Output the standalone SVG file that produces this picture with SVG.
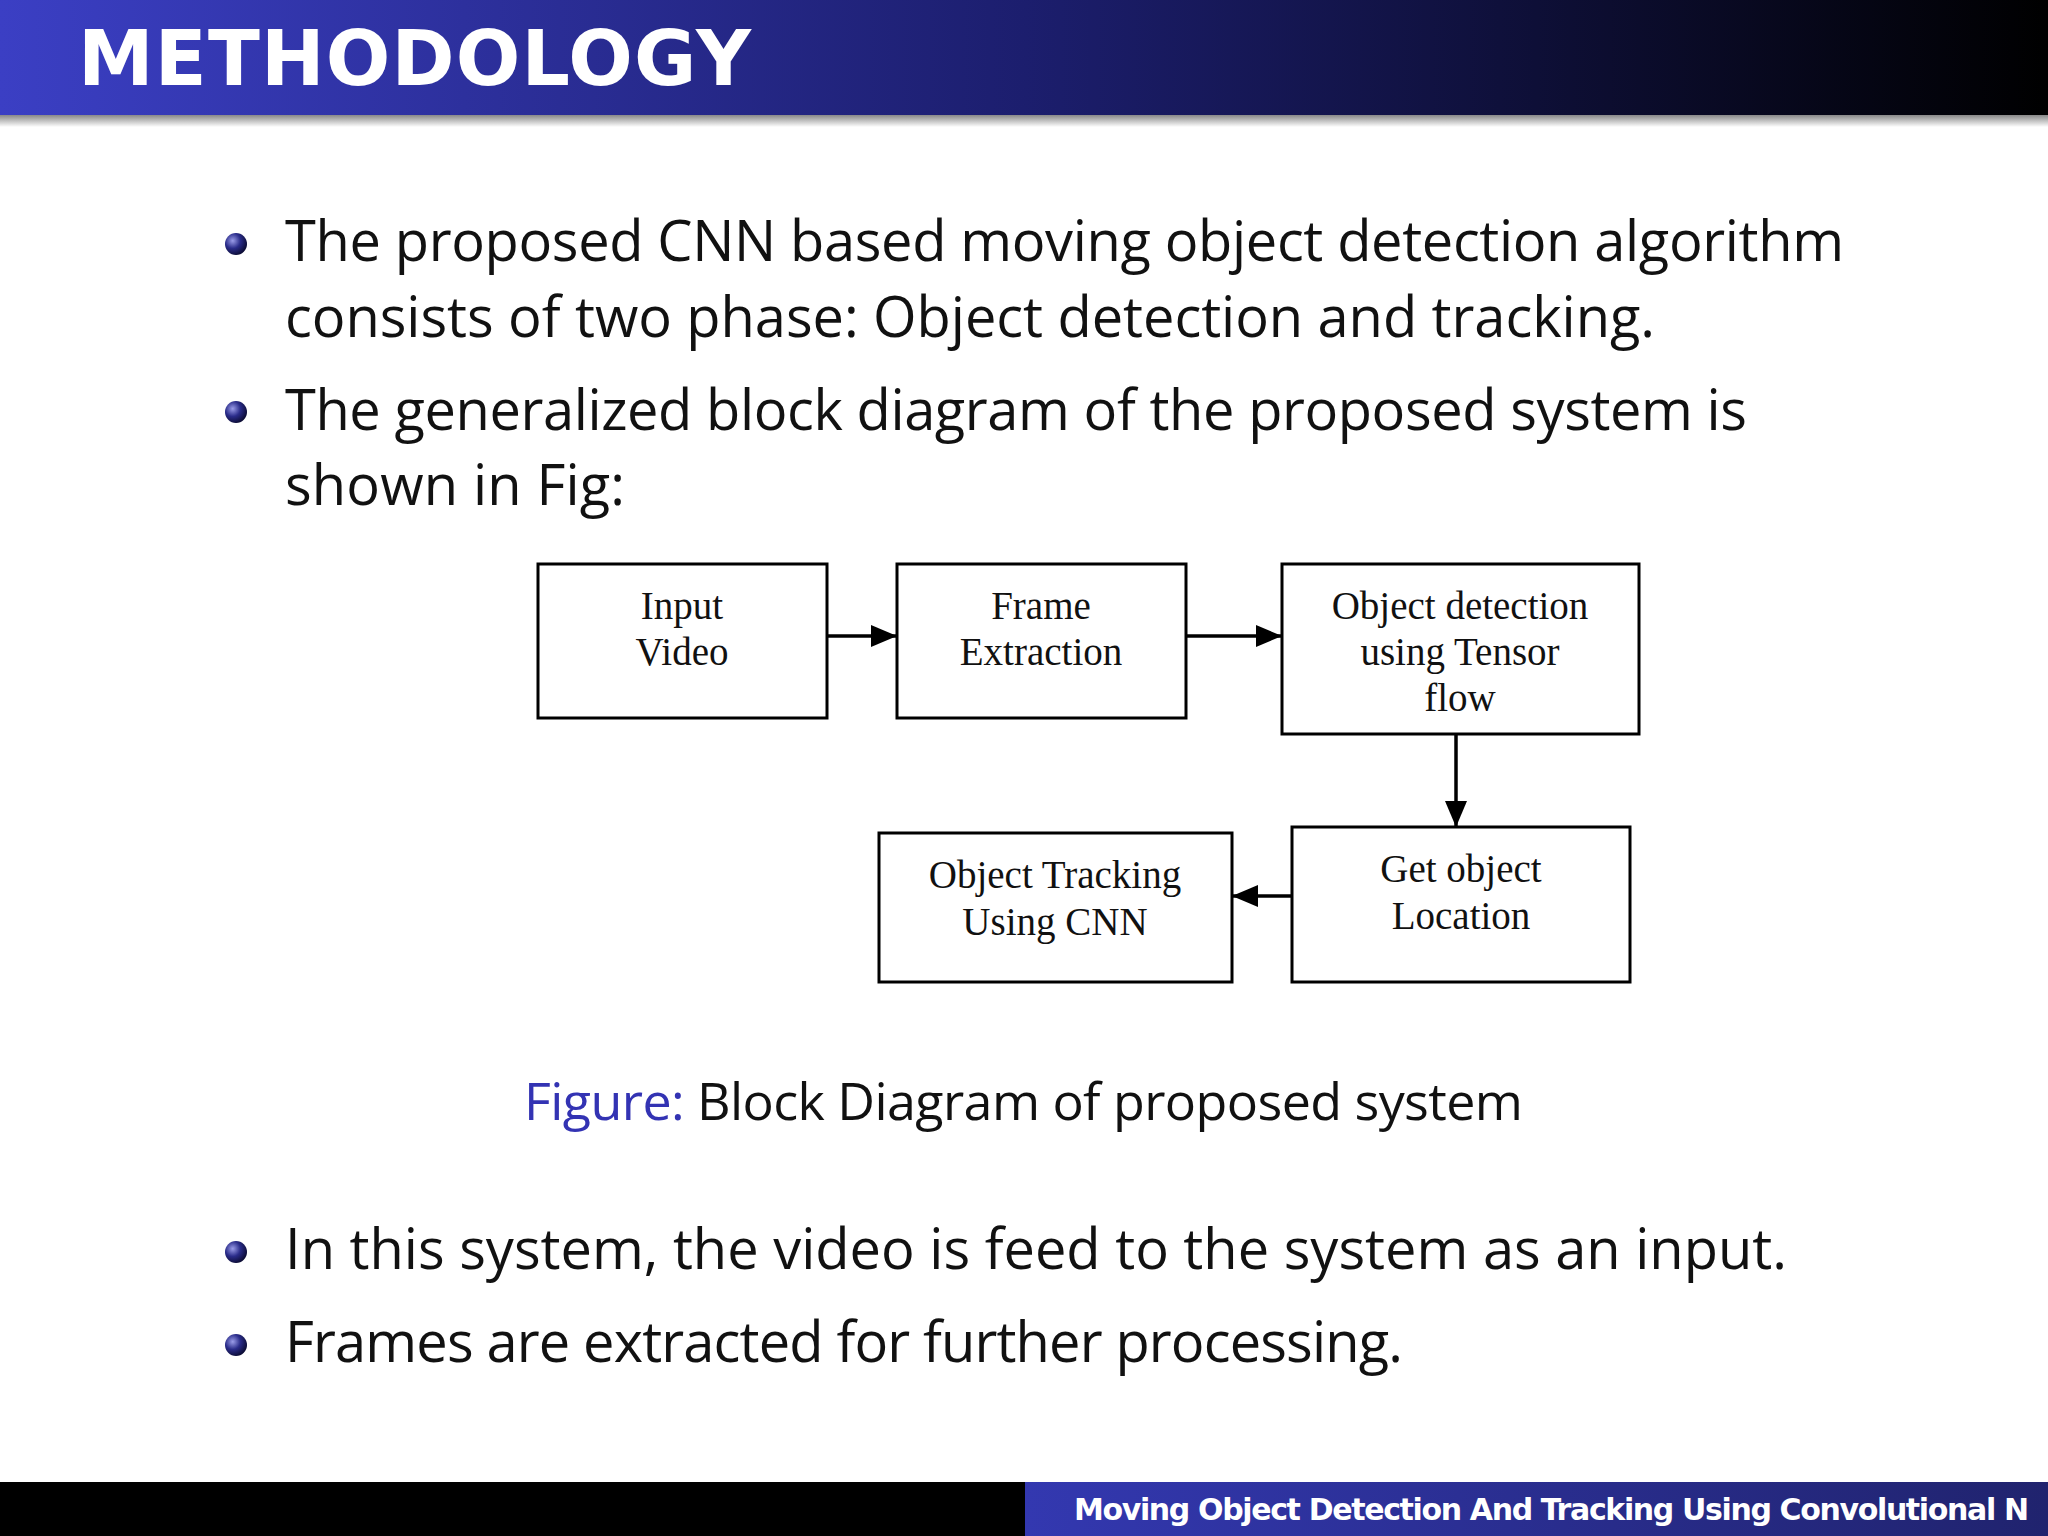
<svg xmlns="http://www.w3.org/2000/svg" width="2048" height="1536" viewBox="0 0 2048 1536">
<defs>
<linearGradient id="hdr" x1="0" y1="0" x2="1" y2="0"><stop offset="0" stop-color="#3b3fc4"/><stop offset="0.5" stop-color="#1c1e6e"/><stop offset="1" stop-color="#000"/></linearGradient>
<linearGradient id="sh" x1="0" y1="0" x2="0" y2="1"><stop offset="0" stop-color="#888"/><stop offset="1" stop-color="#fff"/></linearGradient>
<linearGradient id="ftr" x1="0" y1="0" x2="1" y2="0"><stop offset="0" stop-color="#3338b0"/><stop offset="1" stop-color="#20236e"/></linearGradient>
<radialGradient id="ball" cx="0.35" cy="0.35" r="0.7"><stop offset="0" stop-color="#9a9ce8"/><stop offset="0.5" stop-color="#2a2c8a"/><stop offset="1" stop-color="#0a0a30"/></radialGradient>
<marker id="ah" viewBox="0 0 10 10" refX="10" refY="5" markerWidth="26" markerHeight="22" markerUnits="userSpaceOnUse" orient="auto" preserveAspectRatio="none"><path d="M0,0 L10,5 L0,10 z" fill="#000"/></marker>
</defs>
<style>
.b{font-family:"Open Sans","DejaVu Sans",sans-serif;font-size:56px;fill:#111}
.n{font-family:"Liberation Serif",serif;font-size:39px;fill:#111;text-anchor:middle}
.box{fill:#fff;stroke:#000;stroke-width:3}
.c{stroke:#000;stroke-width:3.5;fill:none;marker-end:url(#ah)}
</style>
<rect width="2048" height="1536" fill="#fff"/>
<rect x="0" y="0" width="2048" height="115" fill="url(#hdr)"/>
<rect x="0" y="115" width="2048" height="12" fill="url(#sh)"/>
<text x="78" y="85" font-family="'DejaVu Sans',sans-serif" font-weight="bold" font-size="76" fill="#fff" textLength="673">METHODOLOGY</text>
<g id="bullets">
<circle cx="236" cy="244" r="11" fill="url(#ball)"/>
<circle cx="236" cy="412" r="11" fill="url(#ball)"/>
<circle cx="236" cy="1252" r="11" fill="url(#ball)"/>
<circle cx="236" cy="1345" r="11" fill="url(#ball)"/>
<text class="b" x="285" y="261" textLength="1559">The proposed CNN based moving object detection algorithm</text>
<text class="b" x="285" y="337" textLength="1370">consists of two phase:  Object detection and tracking.</text>
<text class="b" x="285" y="430" textLength="1462">The generalized block diagram of the proposed system is</text>
<text class="b" x="285" y="505" textLength="340">shown in Fig:</text>
<text class="b" x="285" y="1269" textLength="1502">In this system, the video is feed to the system as an input.</text>
<text class="b" x="285" y="1362" textLength="1118">Frames are extracted for further processing.</text>
</g>
<g id="n1"><rect class="box" x="538" y="564" width="289" height="154"/><text class="n" x="682" y="619">Input</text><text class="n" x="682" y="665">Video</text></g>
<g id="n2"><rect class="box" x="897" y="564" width="289" height="154"/><text class="n" x="1041" y="619">Frame</text><text class="n" x="1041" y="665">Extraction</text></g>
<g id="n3"><rect class="box" x="1282" y="564" width="357" height="170"/><text class="n" x="1460" y="619">Object detection</text><text class="n" x="1460" y="665">using Tensor</text><text class="n" x="1460" y="711">flow</text></g>
<g id="n4"><rect class="box" x="1292" y="827" width="338" height="155"/><text class="n" x="1461" y="882">Get object</text><text class="n" x="1461" y="929">Location</text></g>
<g id="n5"><rect class="box" x="879" y="833" width="353" height="149"/><text class="n" x="1055" y="888">Object Tracking</text><text class="n" x="1055" y="935">Using CNN</text></g>
<g id="connectors">
<line class="c" x1="827" y1="636" x2="897" y2="636"/>
<line class="c" x1="1186" y1="636" x2="1282" y2="636"/>
<line class="c" x1="1456" y1="734" x2="1456" y2="827"/>
<line class="c" x1="1292" y1="896" x2="1232" y2="896"/>
</g>
<text x="524" y="1120" font-family="'Open Sans','DejaVu Sans',sans-serif" font-size="52" textLength="999"><tspan fill="#3333b3">Figure:</tspan><tspan fill="#111"> Block Diagram of proposed system</tspan></text>
<rect x="0" y="1482" width="2048" height="54" fill="#000"/>
<rect x="1025" y="1482" width="1023" height="54" fill="url(#ftr)"/>
<text x="1074" y="1520" font-family="'DejaVu Sans',sans-serif" font-weight="bold" font-size="30" fill="#fff" textLength="955">Moving Object Detection And Tracking Using Convolutional N</text>
</svg>
